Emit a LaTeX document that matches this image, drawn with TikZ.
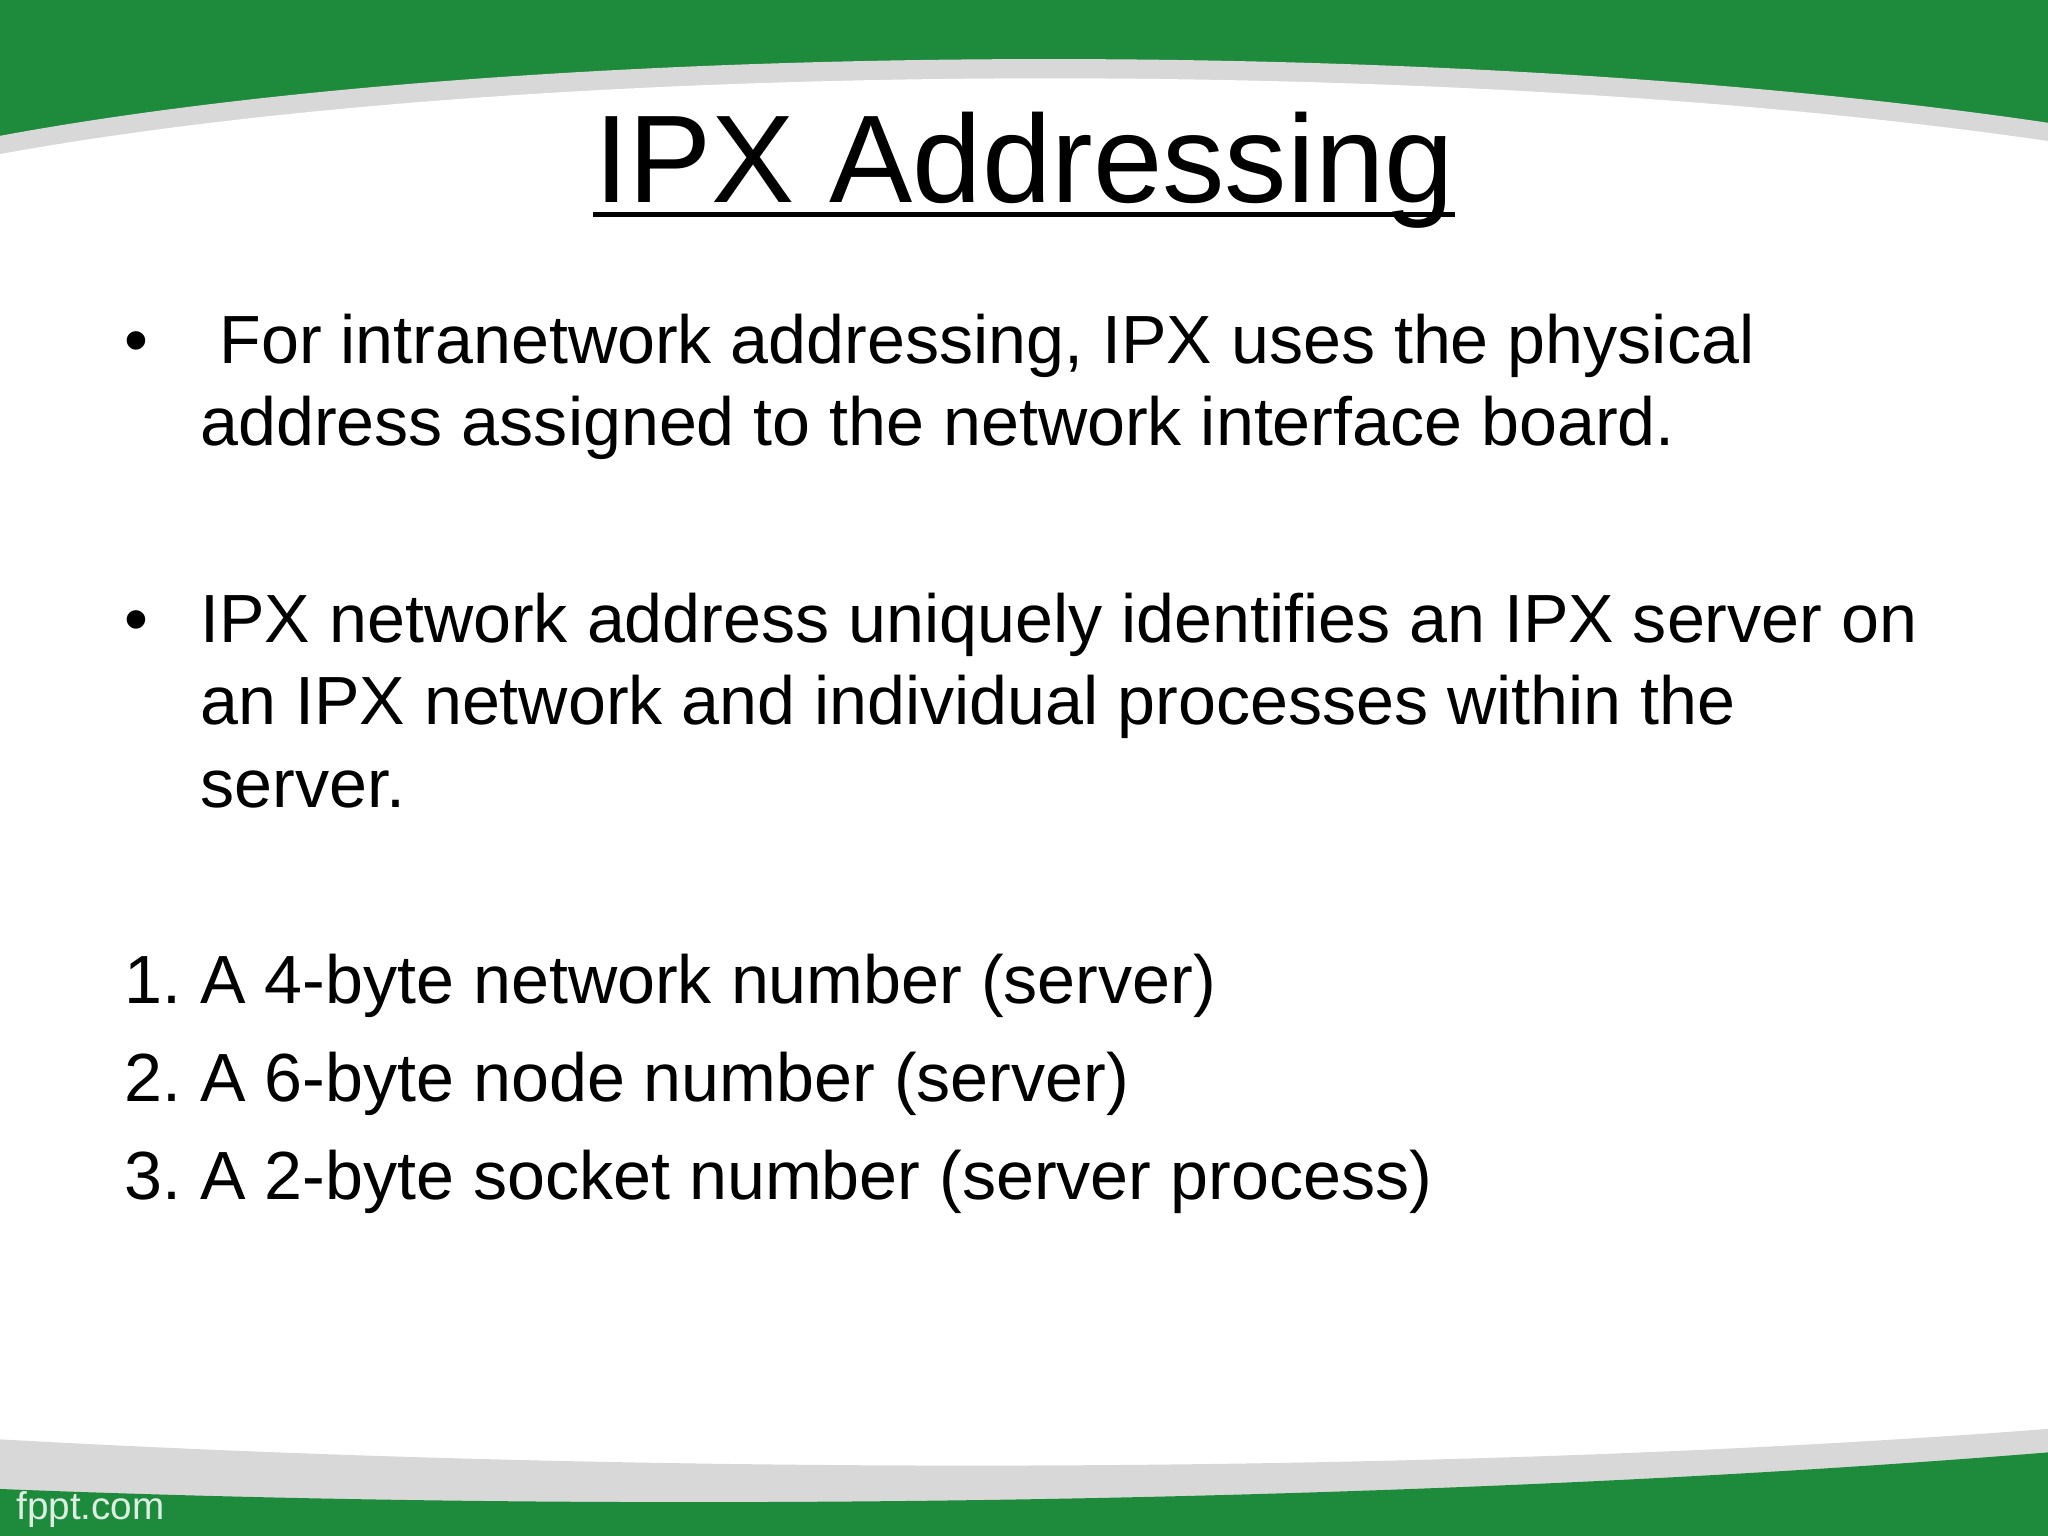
\documentclass[tikz,border=0pt]{standalone}
\usepackage{fontspec}
\setmainfont{Liberation Sans}
\definecolor{fgreen}{HTML}{1E8A3C}
\definecolor{edge}{HTML}{D8D8D8}
\begin{document}
\begin{tikzpicture}[x=0.013061cm,y=-0.013061cm,
  txt/.style={anchor=base west,inner sep=0,font=\fontsize{19.4}{23}\selectfont}]
\useasboundingbox (0,0) rectangle (1568,1176);
\fill[white] (0,0) rectangle (1568,1176);
% top band
\fill[fgreen] (0,0) rectangle (1568,110);
\fill[edge] (0,104) .. controls (400,30) and (1100,25) .. (1568,94) -- (1568,1176) -- (0,1176) -- cycle;
\fill[white] (0,118) .. controls (400,45) and (1100,40) .. (1568,108) -- (1568,1176) -- (0,1176) -- cycle;
% bottom band
\fill[edge] (0,1102) .. controls (500,1130) and (1100,1130) .. (1568,1094) -- (1568,1176) -- (0,1176) -- cycle;
\fill[fgreen] (0,1140) .. controls (500,1160) and (1100,1150) .. (1568,1112) -- (1568,1176) -- (0,1176) -- cycle;
\node[anchor=base west,inner sep=0,text=white!85!fgreen,font=\fontsize{11}{13}\selectfont] (fppt) at (12,1163) {fppt.com};
% title
\node[anchor=base,inner sep=0,font=\fontsize{35.5}{40}\selectfont] (title) at (784,155) {IPX Addressing};
\draw[line width=1.3pt] ([yshift=-1.2mm]title.base west) -- ([yshift=-1.2mm]title.base east);
% bullets
\node[txt] (b1) at (95,278) {•};
\node[txt] (l1) at (153,278) {\ For intranetwork addressing, IPX uses the physical};
\node[txt] (l2) at (153,341) {address assigned to the network interface board.};
\node[txt] (b2) at (95,492) {•};
\node[txt] (l3) at (153,492) {IPX network address uniquely identifies an IPX server on};
\node[txt] (l4) at (153,555) {an IPX network and individual processes within the};
\node[txt] (l5) at (153,618) {server.};
\node[txt] (n1) at (95,768) {1.};
\node[txt] (t1) at (153,768) {A 4-byte network number (server)};
\node[txt] (n2) at (95,843) {2.};
\node[txt] (t2) at (153,843) {A 6-byte node number (server)};
\node[txt] (n3) at (95,918) {3.};
\node[txt] (t3) at (153,918) {A 2-byte socket number (server process)};
\end{tikzpicture}
\end{document}
